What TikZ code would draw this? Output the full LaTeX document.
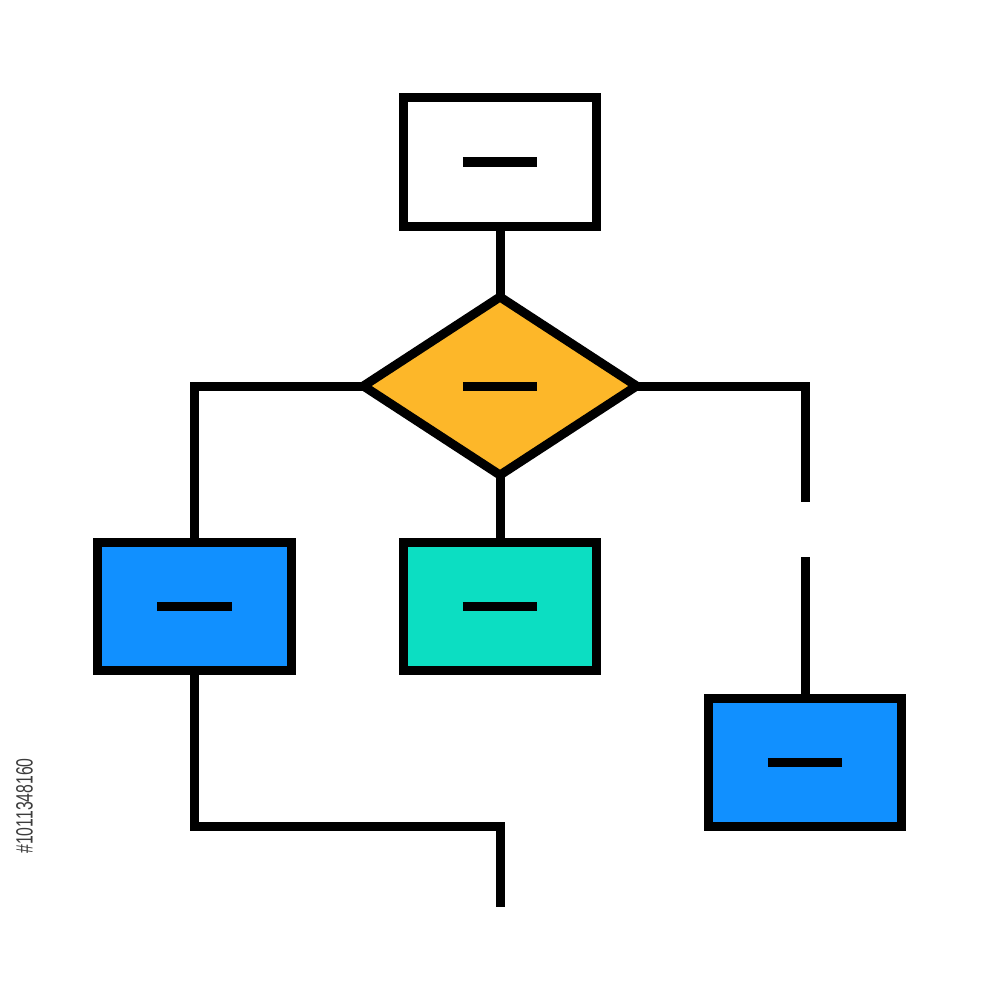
\documentclass[tikz,border=0pt]{standalone}
\usepackage{fontspec}
\setsansfont{Liberation Sans}
\usetikzlibrary{shapes.geometric}
\definecolor{amber}{RGB}{253,183,41}
\definecolor{azure}{RGB}{17,144,255}
\definecolor{aqua}{RGB}{12,222,194}
\definecolor{idgray}{RGB}{60,60,60}

\begin{document}
\begin{tikzpicture} [x=0.01cm, y=-0.01cm, line width=0.09cm,
      box/.style={draw, rectangle, minimum width=1.935cm, minimum height=1.285cm, inner sep=0pt},
      decision/.style={draw, diamond, minimum width=2.73cm, minimum height=1.78cm, inner sep=0pt, outer sep=0pt}]
      \useasboundingbox (0,0) rectangle (1000,1000);

      \node[box] (start) at (500,162) {};
      \node[decision, fill=amber] (choice) at (500,386) {};
      \node[box, fill=azure] (leftbox) at (194.5,606.5) {};
      \node[box, fill=aqua] (midbox) at (500,606.5) {};
      \node[box, fill=azure] (rightbox) at (805,762.5) {};

      \foreach \n in {start, choice, leftbox, midbox, rightbox}
          \draw ([xshift=-0.37cm]\n.center) -- ([xshift=0.37cm]\n.center);

      \coordinate (gaptop) at (805,502);
      \coordinate (gapbottom) at (805,557);
      \coordinate (bend) at (500,826.5);
      \coordinate (exit) at (500,906.5);

      \draw (start) -- (choice);
      \draw (choice) -- (midbox);
      \draw (choice.west) -| (leftbox.north);
      \draw (choice.east) -| (gaptop);
      \draw (gapbottom) -- (rightbox.north);
      \draw (leftbox.south) |- (bend) -- (exit);

      \node[rotate=90, text=idgray, font=\sffamily\fontsize{6.7}{8}\selectfont, inner sep=0pt] (stockid) at (24.5,806) {\scalebox{0.67}[1]{\#1011348160}};
\end{tikzpicture}
\end{document}
